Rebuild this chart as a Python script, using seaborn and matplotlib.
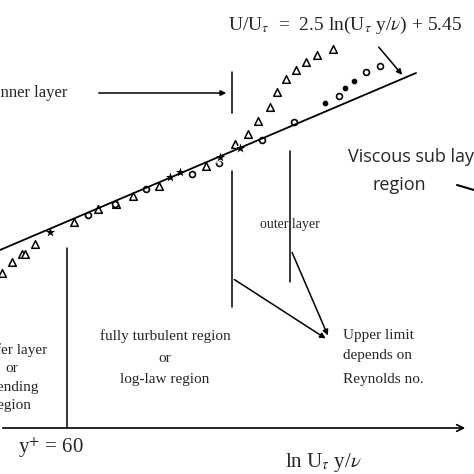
import matplotlib
matplotlib.use("Agg")
import matplotlib.pyplot as plt
import seaborn as sns

sns.set_theme(style="white")
plt.rcParams['font.family'] = ['Liberation Serif', 'DejaVu Sans']
plt.rcParams['mathtext.fontset'] = 'stix'

# diagram drawn in image-pixel units (y grows downward)
log_law_x = [0, 416]
log_law_y = [250, 73]

tri_x = [2, 12, 22, 25, 35, 74, 98, 116, 133, 159, 206, 235, 248, 258, 270, 277, 286, 296, 306, 317, 333]
tri_y = [273, 262, 254, 254, 244, 222, 209, 204, 196, 186, 166, 144, 134, 121, 107, 92, 79, 70, 62, 55, 49]

circ_x = [88, 115, 146, 192, 219, 262, 294, 339, 366, 380]
circ_y = [215, 204, 189, 174, 163, 140, 122, 96, 72, 66]

dot_x = [325, 345, 354]
dot_y = [103, 88, 81]

star_x = [50, 170, 180, 220, 240]
star_y = [232, 177, 172, 157, 148]

fig = plt.figure(figsize=(4.74, 4.74), dpi=100)
ax = fig.add_axes([0, 0, 1, 1])
ax.set_xlim(0, 474)
ax.set_ylim(474, 0)
ax.axis('off')

sns.lineplot(x=log_law_x, y=log_law_y, color='black', lw=1.3, ax=ax)
sns.scatterplot(x=tri_x, y=tri_y, marker='^', s=30, facecolor='white', edgecolor='black', linewidth=1.1, ax=ax)
sns.scatterplot(x=circ_x, y=circ_y, marker='o', s=18, facecolor='white', edgecolor='black', linewidth=1.2, ax=ax)
sns.scatterplot(x=dot_x, y=dot_y, marker='o', s=20, color='black', ax=ax)
sns.scatterplot(x=star_x, y=star_y, marker='*', s=90, color='black', ax=ax)

k = dict(color='black', lw=1.1)
# axis and region dividers
ax.annotate('', xy=(468, 428), xytext=(0, 428), arrowprops=dict(arrowstyle='->', color='black', lw=1.2))
ax.plot([67, 67], [248, 428], **k)
ax.plot([232, 232], [72, 113], **k)
ax.plot([232, 232], [171, 307], **k)
ax.plot([290, 290], [151, 282], **k)
ax.annotate('', xy=(229, 93), xytext=(96, 93), arrowprops=dict(arrowstyle='-|>', color='black', lw=1.1, mutation_scale=8))
ax.annotate('', xy=(328, 340), xytext=(232, 278), arrowprops=dict(arrowstyle='-|>', color='black', lw=1.1, mutation_scale=8))
ax.annotate('', xy=(329, 338), xytext=(291, 250), arrowprops=dict(arrowstyle='-|>', color='black', lw=1.1, mutation_scale=8))
ax.annotate('', xy=(404, 77), xytext=(377, 45), arrowprops=dict(arrowstyle='-|>', color='black', lw=1.1, mutation_scale=8))
ax.plot([457, 474], [185, 190], color='black', lw=1.5)

ax.text(345, 25, r'U/U$_\tau$  =  2.5 ln(U$_\tau$ y/$\nu$) + 5.45', fontsize=14, ha='center', va='center')
ax.text(67, 93, 'inner layer', fontsize=12, ha='right', va='center')
ax.text(420, 157, 'Viscous sub layer', fontsize=13, ha='center', va='center', family=['Open Sans'])
ax.text(399, 185, 'region', fontsize=13, ha='center', va='center', family=['Open Sans'])
ax.text(290, 224, 'outer layer', fontsize=10, ha='center', va='center')
for yy, t in zip([350, 369, 388, 405], ['buffer layer', 'or', 'blending', 'region']):
    ax.text(12, yy, t, fontsize=11, ha='center', va='center')
for yy, t in zip([336, 359, 380], ['fully turbulent region', 'or', 'log-law region']):
    ax.text(165, yy, t, fontsize=11, ha='center', va='center')
for yy, t in zip([336, 355, 380], ['Upper limit', 'depends on', 'Reynolds no.']):
    ax.text(343, yy, t, fontsize=11, ha='left', va='center')
ax.text(18, 448, r'y$^{+}$ = 60', fontsize=15, ha='left', va='center')
ax.text(285, 462, r'ln U$_\tau$ y/$\nu$', fontsize=15, ha='left', va='center')

plt.savefig('out.png', dpi=100)
